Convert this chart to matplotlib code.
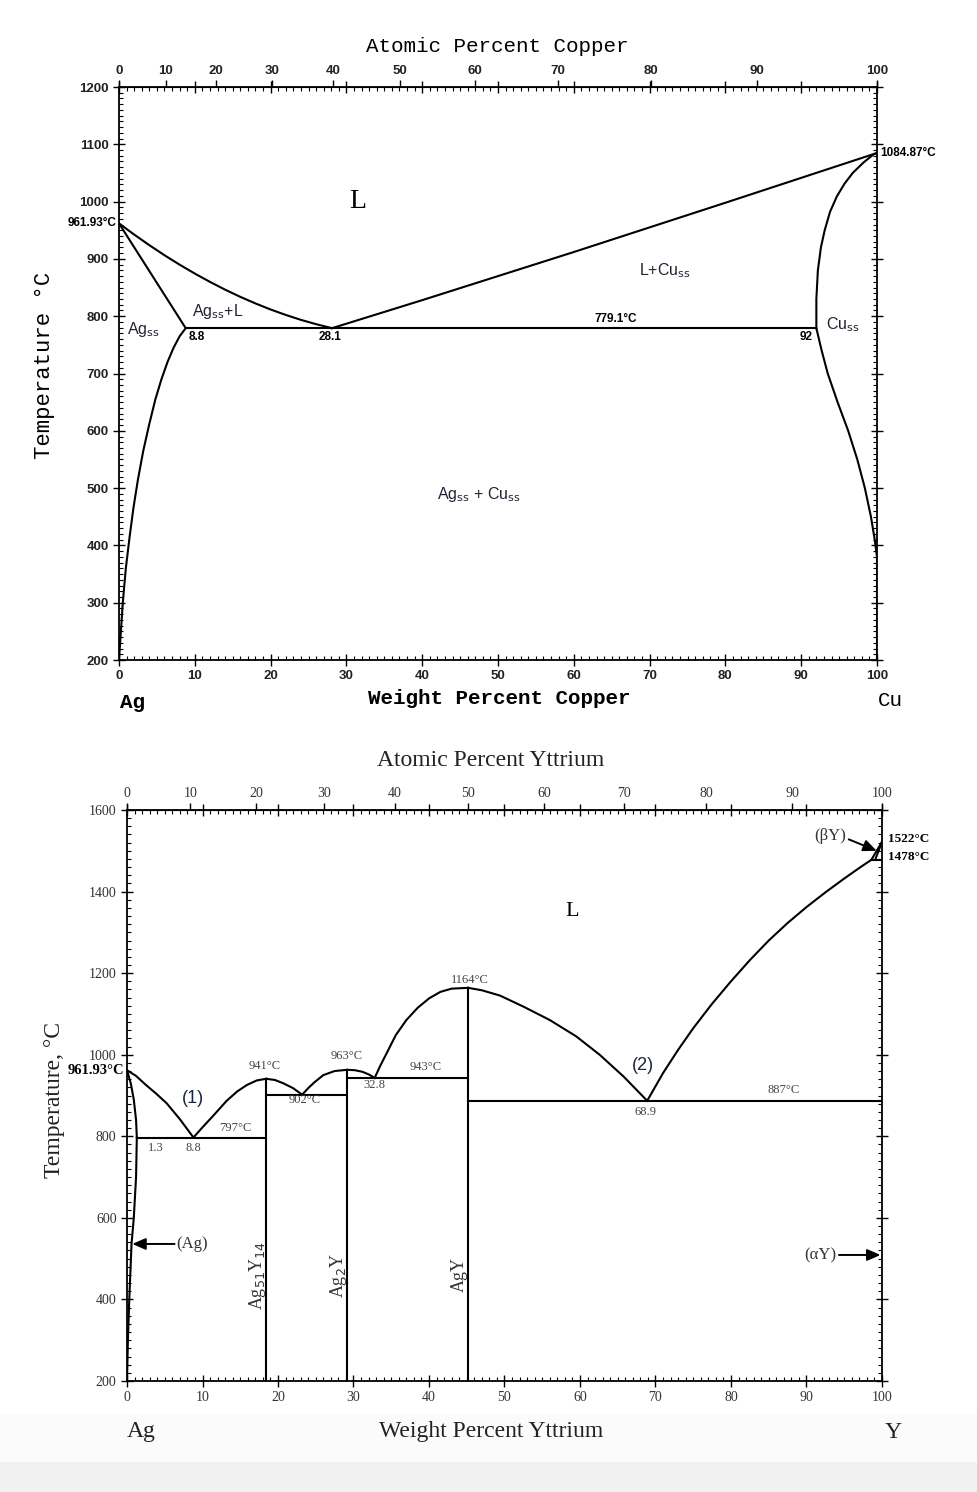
import matplotlib
matplotlib.use("Agg")
import matplotlib.pyplot as plt
from matplotlib.ticker import MultipleLocator
from matplotlib.patches import Rectangle
import numpy as np

# ---------------- Ag-Cu (top) ----------------
M_AG, M_CU, M_Y = 107.87, 63.546, 88.906

cu_liq_ag_wt = [0, 2, 4, 6, 8, 10, 12, 14, 16, 18, 20, 22, 24, 26, 28.1]
cu_liq_ag_T = [961.93, 942.5, 924, 906.4, 889.9, 874.4, 859.9, 846.3, 833.8,
               822.3, 811.7, 802.2, 793.6, 786.1, 779.1]
cu_sol_ag_wt = [0, 8.8]
cu_sol_ag_T = [961.93, 779.1]
cu_solv_ag_wt = [8.8, 8.0, 7.2, 6.4, 5.6, 4.8, 4.0, 3.2, 2.5, 1.9, 1.4, 0.9, 0.5, 0.2, 0.0]
cu_solv_ag_T = [779.1, 765, 745, 720, 690, 655, 612, 565, 515, 465, 415, 360, 300, 240, 200]
cu_liq_cu_wt = [28.1, 40, 60, 80, 100]
cu_liq_cu_T = [779.1, 828, 912, 998, 1084.87]
cu_sol_cu_wt = [92, 92.0, 92.2, 92.6, 93.1, 93.8, 94.7, 95.7, 96.8, 98.2, 99.5, 100]
cu_sol_cu_T = [779.1, 830, 880, 920, 950, 982, 1009, 1031, 1050, 1068, 1082, 1084.87]
cu_solv_cu_wt = [92, 92.7, 93.5, 94.8, 96.2, 97.4, 98.4, 99.2, 99.7, 100, 100]
cu_solv_cu_T = [779.1, 740, 700, 650, 600, 550, 500, 450, 410, 380, 200]
cu_eut_wt = [8.8, 92]
cu_eut_T = 779.1

# ---------------- Ag-Y (bottom) ----------------
y_liq_wt = [[0, 1.2, 2.5, 3.9, 5.25, 7.0, 8.8],
            [8.8, 10, 11.5, 13.2, 14.6, 15.9, 17.2, 18.45],
            [18.45, 19.6, 20.7, 22.0, 23.2],
            [23.2, 24.0, 24.8, 26.0, 27.5, 29.18],
            [29.18, 30.2, 31.2, 32.1, 32.8],
            [32.8, 33.6, 34.4, 35.6, 37.0, 38.5, 40.0, 41.5, 43.0, 45.18],
            [45.18, 47.0, 49.4, 52.5, 56.0, 59.5, 62.6, 65.8, 68.9],
            [68.9, 71, 73, 75, 77.5, 80, 82.5, 85, 87.5, 90, 92.5, 95, 97, 98.6]]
y_liq_T = [[961.93, 948, 926, 904, 881, 842, 797],
           [797, 822, 852, 887, 910, 926, 937, 941],
           [941, 938, 930, 918, 902],
           [902, 918, 932, 950, 960, 963],
           [963, 962, 958, 951, 943],
           [943, 975, 1004, 1048, 1085, 1115, 1138, 1154, 1162, 1164],
           [1164, 1158, 1145, 1118, 1085, 1045, 1000, 946, 887],
           [887, 955, 1012, 1065, 1125, 1180, 1232, 1280, 1323, 1362, 1398, 1432, 1458, 1478]]
y_sol_ag_wt = [0, 0.5, 0.9, 1.2, 1.3]
y_sol_ag_T = [961.93, 930, 890, 840, 797]
y_solv_ag_wt = [1.3, 1.2, 0.9, 0.6, 0.3, 0.12, 0.0]
y_solv_ag_T = [797, 700, 600, 536, 400, 300, 200]
compound_names = [r"Ag$_{51}$Y$_{14}$", r"Ag$_2$Y", "AgY"]
compound_wt = [18.45, 29.18, 45.18]
compound_Tm = [941, 963, 1164]
y_iso_T = [797, 902, 943, 887]
y_iso_from = [1.3, 18.45, 29.18, 45.18]
y_iso_to = [18.45, 29.18, 45.18, 100]
beta_wt = [98.6, 100]
beta_T = [1478, 1522]

at_ticks = list(range(0, 101, 10))


def make_conv(mb):
    def wt2at(w):
        w = np.clip(np.asarray(w, dtype=float), 0, 100)
        nb = w / mb
        na = (100 - w) / M_AG
        return 100 * nb / np.maximum(nb + na, 1e-12)

    def at2wt(a):
        a = np.clip(np.asarray(a, dtype=float), 0, 100)
        mb_ = a * mb
        ma_ = (100 - a) * M_AG
        return 100 * mb_ / np.maximum(mb_ + ma_, 1e-12)
    return wt2at, at2wt


fig = plt.figure(figsize=(9.78, 14.92), dpi=100)
W, H = 978.0, 1492.0

# light grey band at the bottom of the screenshot
fig.patches.append(Rectangle((0, 0), 1, 30 / H, transform=fig.transFigure,
                             facecolor="#f1f1f1", edgecolor="none", zorder=0))
fig.patches.append(Rectangle((0, 30 / H), 1, 48 / H, transform=fig.transFigure,
                             facecolor="#fbfbfb", edgecolor="none", zorder=0))

LW = 1.5
mono = "Liberation Mono"
sans = "Liberation Sans"
serif = "Liberation Serif"

# ============ top chart ============
ax1 = fig.add_axes([119 / W, 1 - 660 / H, (877 - 119) / W, (660 - 87) / H])
ax1.set_xlim(0, 100)
ax1.set_ylim(200, 1200)
for s in ax1.spines.values():
    s.set_linewidth(1.3)

k = dict(color="black", lw=LW, solid_joinstyle="round")
ax1.plot(cu_liq_ag_wt, cu_liq_ag_T, **k)
ax1.plot(cu_sol_ag_wt, cu_sol_ag_T, **k)
ax1.plot(cu_solv_ag_wt, cu_solv_ag_T, **k)
ax1.plot(cu_liq_cu_wt, cu_liq_cu_T, **k)
ax1.plot(cu_sol_cu_wt, cu_sol_cu_T, **k)
ax1.plot(cu_solv_cu_wt, cu_solv_cu_T, **k)
ax1.hlines(cu_eut_T, cu_eut_wt[0], cu_eut_wt[1], color="black", lw=LW)

ax1.xaxis.set_major_locator(MultipleLocator(10))
ax1.xaxis.set_minor_locator(MultipleLocator(1))
ax1.yaxis.set_major_locator(MultipleLocator(100))
ax1.yaxis.set_minor_locator(MultipleLocator(10))
ax1.tick_params(axis="both", which="major", direction="inout", length=8, width=1,
                top=True, right=True, labelsize=9.5)
ax1.tick_params(axis="both", which="minor", direction="in", length=3, width=0.8,
                top=True, right=True)
for lab in ax1.get_xticklabels() + ax1.get_yticklabels():
    lab.set_fontfamily(sans)
    lab.set_fontweight("bold")
    lab.set_color("#222222")

w2a, a2w = make_conv(M_CU)
sec1 = ax1.secondary_xaxis("top", functions=(w2a, a2w))
sec1.set_xticks(at_ticks)
sec1.tick_params(direction="out", length=5, width=1, labelsize=9.5, pad=2)
for lab in sec1.get_xticklabels():
    lab.set_fontfamily(sans)
    lab.set_fontweight("bold")
    lab.set_color("#222222")

ax1.text(31.5, 1000, "L", fontsize=20, family=serif, ha="center", va="center")
ax1.text(72, 880, r"L+Cu$_{\mathrm{ss}}$", fontsize=11.5, family=sans, ha="center", va="center", color="#222233")
ax1.text(13, 808, r"Ag$_{\mathrm{ss}}$+L", fontsize=11.5, family=sans, ha="center", va="center", color="#222233")
ax1.text(3.2, 776, r"Ag$_{\mathrm{ss}}$", fontsize=11.5, family=sans, ha="center", va="center", color="#222233")
ax1.text(95.5, 786, r"Cu$_{\mathrm{ss}}$", fontsize=11.5, family=sans, ha="center", va="center", color="#222233")
ax1.text(47.5, 488, r"Ag$_{\mathrm{ss}}$ + Cu$_{\mathrm{ss}}$", fontsize=11.5, family=sans, ha="center", va="center", color="#222233")
ax1.text(65.5, 795, "779.1°C", fontsize=8.5, family=sans, weight="bold", ha="center", va="center")
ax1.text(10.3, 763, "8.8", fontsize=8.5, family=sans, weight="bold", ha="center", va="center")
ax1.text(27.9, 763, "28.1", fontsize=8.5, family=sans, weight="bold", ha="center", va="center")
ax1.text(90.7, 763, "92", fontsize=8.5, family=sans, weight="bold", ha="center", va="center")
ax1.text(-0.3, 961.93, "961.93°C", fontsize=8.5, family=sans, weight="bold", ha="right", va="center")
ax1.text(100.4, 1084.87, "1084.87°C", fontsize=8.5, family=sans, weight="bold", ha="left", va="center")

fig.text(497 / W, 1 - 47 / H, "Atomic Percent Copper", fontsize=15, family=mono, ha="center", va="center")
fig.text(499 / W, 1 - 698 / H, "Weight Percent Copper", fontsize=15, family=mono, weight="bold", ha="center", va="center")
fig.text(133 / W, 1 - 702 / H, "Ag", fontsize=15, family=mono, weight="bold", ha="center", va="center")
fig.text(890 / W, 1 - 700 / H, "Cu", fontsize=15, family=mono, ha="center", va="center")
fig.text(45 / W, 1 - 365 / H, "Temperature °C", fontsize=16, family=mono, rotation=90, ha="center", va="center")

# ============ bottom chart ============
ax2 = fig.add_axes([127 / W, 1 - 1381 / H, (882 - 127) / W, (1381 - 810) / H])
ax2.set_xlim(0, 100)
ax2.set_ylim(200, 1600)
for s in ax2.spines.values():
    s.set_linewidth(1.3)

for xs, ts in zip(y_liq_wt, y_liq_T):
    ax2.plot(xs, ts, **k)
ax2.plot(y_sol_ag_wt, y_sol_ag_T, **k)
ax2.plot(y_solv_ag_wt, y_solv_ag_T, **k)
for x0, tm in zip(compound_wt, compound_Tm):
    ax2.vlines(x0, 200, tm, color="black", lw=LW)
for t, a, b in zip(y_iso_T, y_iso_from, y_iso_to):
    ax2.hlines(t, a, b, color="black", lw=LW)
ax2.hlines(beta_T[0], beta_wt[0], beta_wt[1], color="black", lw=LW)
ax2.plot(beta_wt, beta_T, **k)
ax2.plot([99.1, 100], beta_T, **k)

ax2.xaxis.set_major_locator(MultipleLocator(10))
ax2.xaxis.set_minor_locator(MultipleLocator(1))
ax2.yaxis.set_major_locator(MultipleLocator(200))
ax2.yaxis.set_minor_locator(MultipleLocator(20))
ax2.tick_params(axis="both", which="major", direction="inout", length=8, width=1,
                top=True, right=True, labelsize=10)
ax2.tick_params(axis="both", which="minor", direction="in", length=3, width=0.8,
                top=True, right=True)
for lab in ax2.get_xticklabels() + ax2.get_yticklabels():
    lab.set_fontfamily(serif)
    lab.set_color("#333333")

w2a, a2w = make_conv(M_Y)
sec2 = ax2.secondary_xaxis("top", functions=(w2a, a2w))
sec2.set_xticks(at_ticks)
sec2.tick_params(direction="out", length=5, width=1, labelsize=10, pad=2)
for lab in sec2.get_xticklabels():
    lab.set_fontfamily(serif)
    lab.set_color("#333333")

ax2.text(59.0, 1350, "L", fontsize=16, family=serif, ha="center", va="center")
ax2.text(8.7, 892, "(1)", fontsize=13, family=sans, ha="center", va="center", color="#1c2540")
ax2.text(68.3, 973, "(2)", fontsize=13, family=sans, ha="center", va="center", color="#1c2540")
small = dict(fontsize=9, family=serif, ha="center", va="center", color="#444444")
ax2.text(14.3, 820, "797°C", **small)
ax2.text(3.8, 772, "1.3", **small)
ax2.text(8.8, 772, "8.8", **small)
ax2.text(18.3, 972, "941°C", **small)
ax2.text(23.5, 888, "902°C", **small)
ax2.text(29.1, 997, "963°C", **small)
ax2.text(32.8, 925, "32.8", **small)
ax2.text(39.6, 970, "943°C", **small)
ax2.text(45.4, 1184, "1164°C", **small)
ax2.text(68.7, 860, "68.9", **small)
ax2.text(87.0, 913, "887°C", **small)
ax2.text(-0.3, 961.93, "961.93°C", fontsize=10.5, family=serif, weight="bold", ha="right", va="center")
ax2.text(100.8, 1528, "1522°C", fontsize=9.5, family=serif, weight="bold", ha="left", va="center")
ax2.text(100.8, 1484, "1478°C", fontsize=9.5, family=serif, weight="bold", ha="left", va="center")

for nm, x0 in zip(compound_names, compound_wt):
    ax2.text(x0 - 1.2, 460, nm, fontsize=13, family=serif, rotation=90,
             ha="center", va="center", color="#333333")

arr = dict(arrowstyle="-|>,head_length=0.8,head_width=0.35", color="black", lw=1.4,
           shrinkA=0, shrinkB=0)
ax2.annotate("", xy=(0.7, 536), xytext=(6.3, 536), arrowprops=arr)
ax2.text(6.5, 536, "(Ag)", fontsize=12, family=serif, ha="left", va="center", color="#333333")
ax2.annotate("", xy=(99.8, 509), xytext=(94.3, 509), arrowprops=arr)
ax2.text(94.0, 509, "(αY)", fontsize=12, family=serif, ha="right", va="center", color="#333333")
ax2.annotate("", xy=(99.3, 1500), xytext=(95.6, 1528), arrowprops=arr)
ax2.text(95.2, 1536, "(βY)", fontsize=12, family=serif, ha="right", va="center", color="#333333")

fig.text(491 / W, 1 - 760 / H, "Atomic Percent Yttrium", fontsize=17, family=serif, ha="center", va="center", color="#222222")
fig.text(491 / W, 1 - 1432 / H, "Weight Percent Yttrium", fontsize=17, family=serif, ha="center", va="center", color="#222222")
fig.text(141 / W, 1 - 1432 / H, "Ag", fontsize=17, family=serif, ha="center", va="center", color="#222222")
fig.text(893 / W, 1 - 1432 / H, "Y", fontsize=17, family=serif, ha="center", va="center", color="#222222")
fig.text(55 / W, 1 - 1100 / H, "Temperature, °C", fontsize=17, family=serif, rotation=90, ha="center", va="center", color="#222222")

fig.savefig("out.png", dpi=100)
